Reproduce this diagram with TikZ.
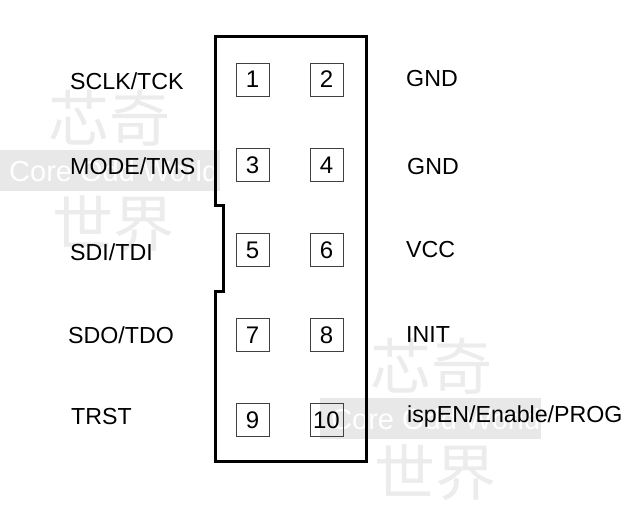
\documentclass[tikz,border=0pt]{standalone}
\usepackage{fontspec}
\setmainfont{Liberation Sans}
\newfontfamily\cjk{Noto Sans CJK SC}
\definecolor{wm}{gray}{0.925}
\definecolor{wmband}{gray}{0.91}
\tikzset{
  pin/.style={draw=black!75,line width=0.9pt,minimum width=33pt,minimum height=33pt,inner sep=0pt,font=\fontsize{24}{24}\selectfont},
  sig/.style={anchor=west,inner sep=0pt,font=\fontsize{23.2}{24}\selectfont},
  wmchar/.style={text=wm,inner sep=0pt,font=\fontsize{61}{61}\cjk},
  wmtext/.style={text=white,anchor=west,inner sep=0pt,font=\fontsize{29}{29}\selectfont},
  band/.style={fill=wmband,draw=none}
}
\begin{document}
\begin{tikzpicture}[x=1pt,y=-1pt]
\useasboundingbox (0,0) rectangle (640,505);
\fill[white] (0,0) rectangle (640,505);
% watermarks
\fill[band] (0,150) rectangle (220,191);
\node[wmchar] (wa) at (109,118) {芯奇};
\node[wmchar] (wb) at (113,224) {世界};
\node[wmtext] (wc) at (9,171) {Core Odd World};
\fill[band] (320,398) rectangle (541,439);
\node[wmchar] (wd) at (431,366) {芯奇};
\node[wmchar] (we) at (435,473) {世界};
\node[wmtext] (wf) at (331,419) {Core Odd World};
% body
\draw[line width=3pt,line join=miter] (215,37) -- (366,37) -- (366,461) -- (215,461) -- (215,291) -- (223,291) -- (223,206) -- (215,206) -- cycle;
% pins
\node[pin] (p1) at (252.5,79.5) {1};
\node[pin] (p2) at (326.5,79.5) {2};
\node[pin] (p3) at (252.5,165) {3};
\node[pin] (p4) at (326.5,165) {4};
\node[pin] (p5) at (252.5,250) {5};
\node[pin] (p6) at (326.5,250) {6};
\node[pin] (p7) at (252.5,335) {7};
\node[pin] (p8) at (326.5,335) {8};
\node[pin] (p9) at (252.5,420) {9};
\node[pin] (p10) at (326.5,420) {10};
% labels
\node[sig] (l1) at (70,81) {SCLK/TCK};
\node[sig] (l3) at (70,166) {MODE/TMS};
\node[sig] (l5) at (70,252) {SDI/TDI};
\node[sig] (l7) at (68,335) {SDO/TDO};
\node[sig] (l9) at (71,417) {TRST};
\node[sig] (r2) at (406,79) {GND};
\node[sig] (r4) at (407,167) {GND};
\node[sig] (r6) at (406,250) {VCC};
\node[sig] (r8) at (406,335) {INIT};
\node[sig] (r10) at (407,417) {ispEN/Enable/PROG};
\end{tikzpicture}
\end{document}
